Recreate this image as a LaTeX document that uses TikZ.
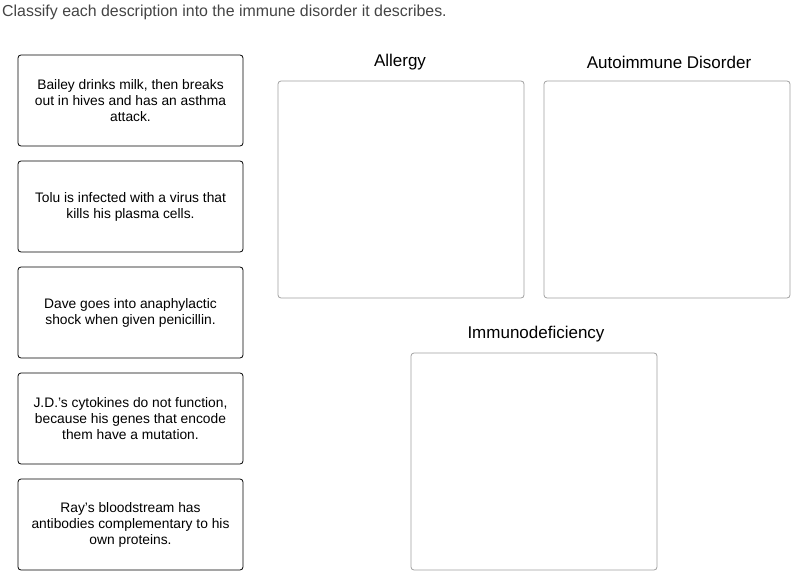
\documentclass[tikz,border=0pt]{standalone}
\usepackage{fontspec}
\setmainfont{Liberation Sans}
\definecolor{titlegrau}{HTML}{444444}
\definecolor{rahmengrau}{HTML}{A0A0A0}
\begin{document}
\begin{tikzpicture}[x=1pt,y=-1pt,
    card/.style={draw=black, rounded corners=3pt, line width=0.8pt, minimum width=225pt, minimum height=91pt, align=center, font=\fontsize{13.8}{16}\selectfont},
    drop/.style={draw=rahmengrau, rounded corners=3pt, line width=0.8pt, minimum width=246pt, minimum height=217pt},
    kopf/.style={font=\fontsize{17}{19}\selectfont}]
\useasboundingbox (0,0) rectangle (798,583);

\node[anchor=west, text=titlegrau, inner sep=0pt, font=\fontsize{15.9}{17}\selectfont] (titel) at (2,12) {Classify each description into the immune disorder it describes.};

% Karten
\node[card] (k1) at (130.5,100.5) {Bailey drinks milk, then breaks\\out in hives and has an asthma\\attack.};
\node[card] (k2) at (130.5,206.5) {Tolu is infected with a virus that\\kills his plasma cells.};
\node[card] (k3) at (130.5,312.5) {Dave goes into anaphylactic\\shock when given penicillin.};
\node[card] (k4) at (130.5,418.5) {J.D.’s cytokines do not function,\\because his genes that encode\\them have a mutation.};
\node[card] (k5) at (130.5,524.5) {Ray’s bloodstream has\\antibodies complementary to his\\own proteins.};

% Zielfelder
\node[drop] (allergie) at (401,189.5) {};
\node[drop] (auto) at (667,189.5) {};
\node[drop] (immun) at (534,461.5) {};
\node[kopf] at (400,62) {Allergy};
\node[kopf] at (669,62) {Autoimmune Disorder};
\node[kopf] at (536,334) {Immunodeficiency};
\end{tikzpicture}
\end{document}
